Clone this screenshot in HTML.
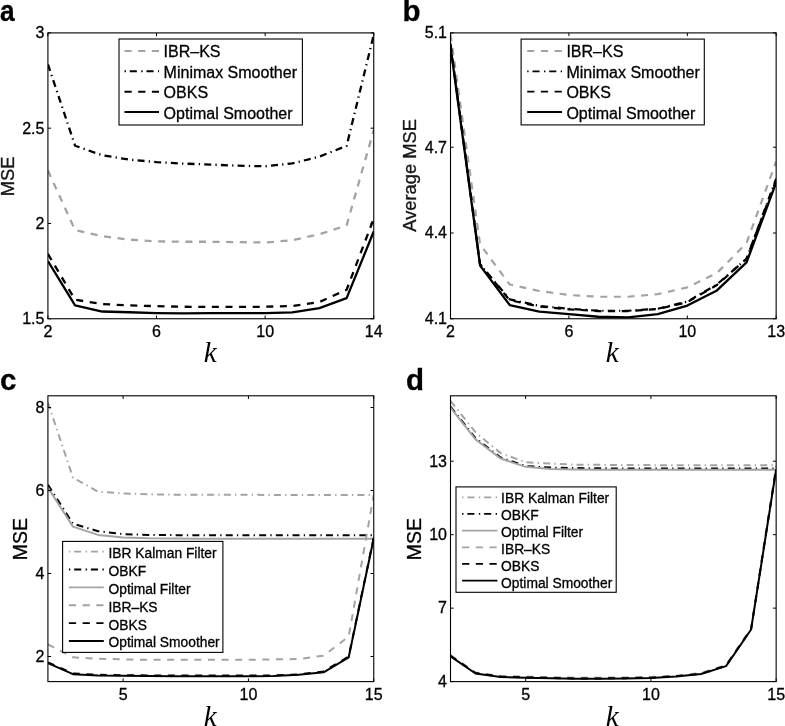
<!DOCTYPE html>
<html><head><meta charset="utf-8"><title>MSE vs k</title>
<style>
html,body{margin:0;padding:0;background:#fff;}
body{width:785px;height:726px;overflow:hidden;}
svg{display:block;font-family:"Liberation Sans", Arial, Helvetica, sans-serif;}
text{stroke:#000;stroke-width:0.3px;}
</style></head>
<body>
<svg width="785" height="726" viewBox="0 0 785 726" fill="#000">
<rect width="785" height="726" fill="#fff"/>
<defs>
<clipPath id="ca"><rect x="47.92" y="32.9" width="325.83" height="285.85"/></clipPath>
<clipPath id="cb"><rect x="450.5" y="32.9" width="325.65" height="285.85"/></clipPath>
<clipPath id="cc"><rect x="47.92" y="395.8" width="325.83" height="285.8"/></clipPath>
<clipPath id="cd"><rect x="450.5" y="395.8" width="325.65" height="285.8"/></clipPath>
</defs>
<polyline points="47.92,170.49 75.07,230.14 102.22,236.23 129.38,239.66 156.53,241.38 183.68,241.76 210.83,241.76 237.99,242.14 265.14,242.52 292.29,240.24 319.44,234.33 346.6,225.37 373.75,130.09" fill="none" stroke="#a3a3a3" stroke-width="2.3" stroke-dasharray="7 6.6" stroke-linejoin="round" clip-path="url(#ca)"/>
<polyline points="47.92,64.34 75.07,145.72 102.22,155.24 129.38,159.63 156.53,162.1 183.68,163.63 210.83,164.58 237.99,165.72 265.14,166.3 292.29,163.44 319.44,156.58 346.6,145.91 373.75,34.81" fill="none" stroke="#000" stroke-width="2.3" stroke-dasharray="7 4.2 1.3 4.2" stroke-linejoin="round" clip-path="url(#ca)"/>
<polyline points="47.92,253.96 75.07,299.69 102.22,304.08 129.38,305.41 156.53,306.17 183.68,306.74 210.83,306.93 237.99,306.93 265.14,306.74 292.29,305.98 319.44,301.98 346.6,289.78 373.75,218.7" fill="none" stroke="#000" stroke-width="2.3" stroke-dasharray="7 6.6" stroke-linejoin="round" clip-path="url(#ca)"/>
<polyline points="47.92,261.01 75.07,305.41 102.22,311.51 129.38,312.27 156.53,313.03 183.68,313.41 210.83,313.22 237.99,313.22 265.14,313.22 292.29,312.46 319.44,308.08 346.6,298.17 373.75,231.47" fill="none" stroke="#000" stroke-width="2.3" stroke-linejoin="round" clip-path="url(#ca)"/>
<path d="M47.92,318.75v-3.2M47.92,32.9v3.2" stroke="#000" stroke-width="1"/>
<path d="M156.53,318.75v-3.2M156.53,32.9v3.2" stroke="#000" stroke-width="1"/>
<path d="M265.14,318.75v-3.2M265.14,32.9v3.2" stroke="#000" stroke-width="1"/>
<path d="M373.75,318.75v-3.2M373.75,32.9v3.2" stroke="#000" stroke-width="1"/>
<path d="M47.92,318.75h3.2M373.75,318.75h-3.2" stroke="#000" stroke-width="1"/>
<path d="M47.92,223.47h3.2M373.75,223.47h-3.2" stroke="#000" stroke-width="1"/>
<path d="M47.92,128.18h3.2M373.75,128.18h-3.2" stroke="#000" stroke-width="1"/>
<path d="M47.92,32.9h3.2M373.75,32.9h-3.2" stroke="#000" stroke-width="1"/>
<rect x="47.92" y="32.9" width="325.83" height="285.85" fill="none" stroke="#000" stroke-width="1.1"/>
<text x="47.92" y="336.65" text-anchor="middle" font-size="16">2</text>
<text x="156.53" y="336.65" text-anchor="middle" font-size="16">6</text>
<text x="265.14" y="336.65" text-anchor="middle" font-size="16">10</text>
<text x="373.75" y="336.65" text-anchor="middle" font-size="16">14</text>
<text x="44.42" y="324.08" text-anchor="end" font-size="16">1.5</text>
<text x="44.42" y="228.79" text-anchor="end" font-size="16">2</text>
<text x="44.42" y="133.51" text-anchor="end" font-size="16">2.5</text>
<text x="44.42" y="38.23" text-anchor="end" font-size="16">3</text>
<rect x="119" y="39" width="183.4" height="86" fill="#fff" stroke="#000" stroke-width="1.1"/>
<path d="M124.5,51H159" stroke="#a3a3a3" stroke-width="2.0" stroke-dasharray="7.2 6.5"/>
<text x="163.6" y="57.1" font-size="16">IBR–KS</text>
<path d="M124.5,71.33H159" stroke="#000" stroke-width="2.0" stroke-dasharray="7.1 4.4 1.4 3.85" stroke-dashoffset="11.5"/>
<text x="163.6" y="77.7" font-size="16">Minimax Smoother</text>
<path d="M124.5,91.66H159" stroke="#000" stroke-width="2.0" stroke-dasharray="7.2 6.5"/>
<text x="163.6" y="98.3" font-size="16">OBKS</text>
<path d="M124.5,111.99H159" stroke="#000" stroke-width="2.0"/>
<text x="163.6" y="118.9" font-size="16">Optimal Smoother</text>
<polyline points="450.5,34.33 480.1,244.43 509.71,284.45 539.31,291.02 568.92,295.02 598.52,296.74 628.13,296.74 657.73,294.17 687.34,287.31 716.94,273.01 746.55,243 776.15,161.53" fill="none" stroke="#a3a3a3" stroke-width="2.2" stroke-dasharray="7 6.6" stroke-linejoin="round" clip-path="url(#cb)"/>
<polyline points="450.5,43.76 480.1,264.44 509.71,299.31 539.31,305.89 568.92,308.75 598.52,310.75 628.13,310.75 657.73,308.75 687.34,301.6 716.94,284.45 746.55,258.72 776.15,178.68" fill="none" stroke="#000" stroke-width="2.2" stroke-dasharray="7 4.2 1.3 4.2" stroke-linejoin="round" clip-path="url(#cb)"/>
<polyline points="450.5,44.91 480.1,264.44 509.71,300.17 539.31,306.46 568.92,309.32 598.52,311.03 628.13,311.03 657.73,309.03 687.34,302.17 716.94,285.02 746.55,258.72 776.15,180.11" fill="none" stroke="#000" stroke-width="2.2" stroke-dasharray="7 6.6" stroke-linejoin="round" clip-path="url(#cb)"/>
<polyline points="450.5,46.62 480.1,265.58 509.71,305.03 539.31,311.6 568.92,314.18 598.52,316.75 628.13,317.32 657.73,314.18 687.34,305.6 716.94,290.45 746.55,262.44 776.15,182.4" fill="none" stroke="#000" stroke-width="2.3" stroke-linejoin="round" clip-path="url(#cb)"/>
<path d="M450.5,318.75v-3.2M450.5,32.9v3.2" stroke="#000" stroke-width="1"/>
<path d="M568.92,318.75v-3.2M568.92,32.9v3.2" stroke="#000" stroke-width="1"/>
<path d="M687.34,318.75v-3.2M687.34,32.9v3.2" stroke="#000" stroke-width="1"/>
<path d="M776.15,318.75v-3.2M776.15,32.9v3.2" stroke="#000" stroke-width="1"/>
<path d="M450.5,318.75h3.2M776.15,318.75h-3.2" stroke="#000" stroke-width="1"/>
<path d="M450.5,232.99h3.2M776.15,232.99h-3.2" stroke="#000" stroke-width="1"/>
<path d="M450.5,147.24h3.2M776.15,147.24h-3.2" stroke="#000" stroke-width="1"/>
<path d="M450.5,32.9h3.2M776.15,32.9h-3.2" stroke="#000" stroke-width="1"/>
<rect x="450.5" y="32.9" width="325.65" height="285.85" fill="none" stroke="#000" stroke-width="1.1"/>
<text x="450.5" y="336.65" text-anchor="middle" font-size="16">2</text>
<text x="568.92" y="336.65" text-anchor="middle" font-size="16">6</text>
<text x="687.34" y="336.65" text-anchor="middle" font-size="16">10</text>
<text x="776.15" y="336.65" text-anchor="middle" font-size="16">13</text>
<text x="447" y="324.08" text-anchor="end" font-size="16">4.1</text>
<text x="447" y="238.32" text-anchor="end" font-size="16">4.4</text>
<text x="447" y="152.57" text-anchor="end" font-size="16">4.7</text>
<text x="447" y="38.23" text-anchor="end" font-size="16">5.1</text>
<rect x="521.1" y="39.1" width="183.2" height="85.8" fill="#fff" stroke="#000" stroke-width="1.1"/>
<path d="M527.2,51H562" stroke="#a3a3a3" stroke-width="1.8" stroke-dasharray="7.2 6.5"/>
<text x="566.4" y="57.1" font-size="16">IBR–KS</text>
<path d="M527.2,71.33H562" stroke="#000" stroke-width="1.8" stroke-dasharray="7.1 4.4 1.4 3.85" stroke-dashoffset="11.5"/>
<text x="566.4" y="77.7" font-size="16">Minimax Smoother</text>
<path d="M527.2,91.66H562" stroke="#000" stroke-width="1.8" stroke-dasharray="7.2 6.5"/>
<text x="566.4" y="98.3" font-size="16">OBKS</text>
<path d="M527.2,111.99H562" stroke="#000" stroke-width="1.8"/>
<text x="566.4" y="118.9" font-size="16">Optimal Smoother</text>
<polyline points="47.92,402.52 72.98,477.63 98.05,491.75 123.11,493.4 148.18,494.24 173.24,494.65 198.3,494.86 223.37,494.86 248.43,494.86 273.49,494.9 298.56,494.9 323.62,494.9 348.69,494.9 373.75,494.9" fill="none" stroke="#a3a3a3" stroke-width="2.0" stroke-dasharray="7 4.2 1.3 4.2" stroke-linejoin="round" clip-path="url(#cc)"/>
<polyline points="47.92,484.69 72.98,523.7 98.05,531.17 123.11,534.08 148.18,534.9 173.24,535.11 198.3,535.32 223.37,535.32 248.43,535.32 273.49,535.32 298.56,535.32 323.62,535.32 348.69,535.32 373.75,535.32" fill="none" stroke="#000" stroke-width="2.0" stroke-dasharray="7 4.2 1.3 4.2" stroke-linejoin="round" clip-path="url(#cc)"/>
<polyline points="47.92,487.59 72.98,526.61 98.05,534.9 123.11,537.39 148.18,538.23 173.24,538.43 198.3,538.64 223.37,538.64 248.43,538.64 273.49,538.64 298.56,538.64 323.62,538.64 348.69,538.64 373.75,538.64" fill="none" stroke="#a3a3a3" stroke-width="2.0" stroke-linejoin="round" clip-path="url(#cc)"/>
<polyline points="47.92,644.47 72.98,657.33 98.05,658.7 123.11,659.4 148.18,659.82 173.24,659.82 198.3,659.82 223.37,659.82 248.43,659.82 273.49,659.4 298.56,658.99 323.62,655.67 348.69,636.58 373.75,494.65" fill="none" stroke="#a3a3a3" stroke-width="2.0" stroke-dasharray="7 6.6" stroke-linejoin="round" clip-path="url(#cc)"/>
<polyline points="47.92,662.31 72.98,673.51 98.05,674.76 123.11,675.17 148.18,675.38 173.24,675.59 198.3,675.59 223.37,675.59 248.43,675.59 273.49,675.38 298.56,674.35 323.62,671.44 348.69,656.5 373.75,537.39" fill="none" stroke="#000" stroke-width="2.0" stroke-dasharray="7 6.6" stroke-linejoin="round" clip-path="url(#cc)"/>
<polyline points="47.92,663.14 72.98,674.14 98.05,675.38 123.11,675.8 148.18,676 173.24,676.21 198.3,676.21 223.37,676.21 248.43,676.21 273.49,676 298.56,674.76 323.62,672.27 348.69,657.33 373.75,538.23" fill="none" stroke="#000" stroke-width="2.0" stroke-linejoin="round" clip-path="url(#cc)"/>
<path d="M123.11,681.6v-3.2M123.11,395.8v3.2" stroke="#000" stroke-width="1"/>
<path d="M248.43,681.6v-3.2M248.43,395.8v3.2" stroke="#000" stroke-width="1"/>
<path d="M373.75,681.6v-3.2M373.75,395.8v3.2" stroke="#000" stroke-width="1"/>
<path d="M47.92,656.5h3.2M373.75,656.5h-3.2" stroke="#000" stroke-width="1"/>
<path d="M47.92,573.5h3.2M373.75,573.5h-3.2" stroke="#000" stroke-width="1"/>
<path d="M47.92,490.5h3.2M373.75,490.5h-3.2" stroke="#000" stroke-width="1"/>
<path d="M47.92,407.5h3.2M373.75,407.5h-3.2" stroke="#000" stroke-width="1"/>
<rect x="47.92" y="395.8" width="325.83" height="285.8" fill="none" stroke="#000" stroke-width="1.1"/>
<text x="123.11" y="699.5" text-anchor="middle" font-size="16">5</text>
<text x="248.43" y="699.5" text-anchor="middle" font-size="16">10</text>
<text x="373.75" y="699.5" text-anchor="middle" font-size="16">15</text>
<text x="44.42" y="661.83" text-anchor="end" font-size="16">2</text>
<text x="44.42" y="578.83" text-anchor="end" font-size="16">4</text>
<text x="44.42" y="495.83" text-anchor="end" font-size="16">6</text>
<text x="44.42" y="412.83" text-anchor="end" font-size="16">8</text>
<rect x="62.6" y="541.4" width="160.3" height="111" fill="#fff" stroke="#000" stroke-width="1.1"/>
<path d="M68.9,551.6H103.8" stroke="#a3a3a3" stroke-width="1.8" stroke-dasharray="7.1 4.4 1.4 3.85" stroke-dashoffset="11.5"/>
<text x="108.5" y="558" font-size="13.8">IBR Kalman Filter</text>
<path d="M68.9,569.48H103.8" stroke="#000" stroke-width="1.8" stroke-dasharray="7.1 4.4 1.4 3.85" stroke-dashoffset="11.5"/>
<text x="108.5" y="575.88" font-size="13.8">OBKF</text>
<path d="M68.9,587.36H103.8" stroke="#a3a3a3" stroke-width="1.8"/>
<text x="108.5" y="593.76" font-size="13.8">Optimal Filter</text>
<path d="M68.9,605.24H103.8" stroke="#a3a3a3" stroke-width="1.8" stroke-dasharray="7.2 6.5"/>
<text x="108.5" y="611.64" font-size="13.8">IBR–KS</text>
<path d="M68.9,623.12H103.8" stroke="#000" stroke-width="1.8" stroke-dasharray="7.2 6.5"/>
<text x="108.5" y="629.52" font-size="13.8">OBKS</text>
<path d="M68.9,641H103.8" stroke="#000" stroke-width="1.8"/>
<text x="108.5" y="647.4" font-size="13.8">Optimal Smoother</text>
<polyline points="450.5,400.96 475.55,432.3 500.6,453.12 525.65,462.18 550.7,463.65 575.75,464.63 600.8,464.87 625.85,465.12 650.9,465.12 675.95,465.36 701,465.36 726.05,465.36 751.1,465.36 776.15,465.36" fill="none" stroke="#a3a3a3" stroke-width="2.0" stroke-dasharray="7 4.2 1.3 4.2" stroke-linejoin="round" clip-path="url(#cd)"/>
<polyline points="450.5,406.59 475.55,438.18 500.6,457.53 525.65,466.1 550.7,467.57 575.75,468.06 600.8,468.3 625.85,468.55 650.9,468.55 675.95,468.55 701,468.55 726.05,468.55 751.1,468.55 776.15,468.55" fill="none" stroke="#000" stroke-width="2.0" stroke-dasharray="7 4.2 1.3 4.2" stroke-linejoin="round" clip-path="url(#cd)"/>
<polyline points="450.5,407.57 475.55,439.4 500.6,458.51 525.65,466.83 550.7,469.04 575.75,469.53 600.8,469.77 625.85,469.77 650.9,469.77 675.95,469.77 701,469.77 726.05,469.77 751.1,469.77 776.15,469.77" fill="none" stroke="#a3a3a3" stroke-width="2.0" stroke-linejoin="round" clip-path="url(#cd)"/>
<polyline points="450.5,655.15 475.55,672.54 500.6,675.97 525.65,676.7 550.7,677.19 575.75,677.68 600.8,677.68 625.85,677.44 650.9,676.95 675.95,675.72 701,673.03 726.05,664.95 751.1,628.46 776.15,466.1" fill="none" stroke="#a3a3a3" stroke-width="2.0" stroke-dasharray="7 6.6" stroke-linejoin="round" clip-path="url(#cd)"/>
<polyline points="450.5,655.89 475.55,673.03 500.6,676.46 525.65,677.44 550.7,677.93 575.75,678.42 600.8,678.42 625.85,678.17 650.9,677.68 675.95,676.21 701,673.76 726.05,665.68 751.1,629.19 776.15,468.55" fill="none" stroke="#000" stroke-width="2.0" stroke-dasharray="7 6.6" stroke-linejoin="round" clip-path="url(#cd)"/>
<polyline points="450.5,656.38 475.55,673.52 500.6,676.95 525.65,677.68 550.7,678.17 575.75,678.66 600.8,678.66 625.85,678.42 650.9,677.93 675.95,676.46 701,674.01 726.05,666.17 751.1,629.44 776.15,469.28" fill="none" stroke="#000" stroke-width="2.0" stroke-linejoin="round" clip-path="url(#cd)"/>
<path d="M525.65,681.6v-3.2M525.65,395.8v3.2" stroke="#000" stroke-width="1"/>
<path d="M650.9,681.6v-3.2M650.9,395.8v3.2" stroke="#000" stroke-width="1"/>
<path d="M776.15,681.6v-3.2M776.15,395.8v3.2" stroke="#000" stroke-width="1"/>
<path d="M450.5,681.6h3.2M776.15,681.6h-3.2" stroke="#000" stroke-width="1"/>
<path d="M450.5,608.13h3.2M776.15,608.13h-3.2" stroke="#000" stroke-width="1"/>
<path d="M450.5,534.67h3.2M776.15,534.67h-3.2" stroke="#000" stroke-width="1"/>
<path d="M450.5,461.2h3.2M776.15,461.2h-3.2" stroke="#000" stroke-width="1"/>
<rect x="450.5" y="395.8" width="325.65" height="285.8" fill="none" stroke="#000" stroke-width="1.1"/>
<text x="525.65" y="699.5" text-anchor="middle" font-size="16">5</text>
<text x="650.9" y="699.5" text-anchor="middle" font-size="16">10</text>
<text x="776.15" y="699.5" text-anchor="middle" font-size="16">15</text>
<text x="447" y="686.93" text-anchor="end" font-size="16">4</text>
<text x="447" y="613.46" text-anchor="end" font-size="16">7</text>
<text x="447" y="539.99" text-anchor="end" font-size="16">10</text>
<text x="447" y="466.53" text-anchor="end" font-size="16">13</text>
<rect x="456" y="486.9" width="160.2" height="105.4" fill="#fff" stroke="#000" stroke-width="1.1"/>
<path d="M462.1,497.3H497.4" stroke="#a3a3a3" stroke-width="1.8" stroke-dasharray="7.1 4.4 1.4 3.85" stroke-dashoffset="11.5"/>
<text x="501.1" y="502.9" font-size="13.8">IBR Kalman Filter</text>
<path d="M462.1,513.96H497.4" stroke="#000" stroke-width="1.8" stroke-dasharray="7.1 4.4 1.4 3.85" stroke-dashoffset="11.5"/>
<text x="501.1" y="519.82" font-size="13.8">OBKF</text>
<path d="M462.1,530.62H497.4" stroke="#a3a3a3" stroke-width="1.8"/>
<text x="501.1" y="536.74" font-size="13.8">Optimal Filter</text>
<path d="M462.1,547.28H497.4" stroke="#a3a3a3" stroke-width="1.8" stroke-dasharray="7.2 6.5"/>
<text x="501.1" y="553.66" font-size="13.8">IBR–KS</text>
<path d="M462.1,563.94H497.4" stroke="#000" stroke-width="1.8" stroke-dasharray="7.2 6.5"/>
<text x="501.1" y="570.58" font-size="13.8">OBKS</text>
<path d="M462.1,580.6H497.4" stroke="#000" stroke-width="1.8"/>
<text x="501.1" y="587.5" font-size="13.8">Optimal Smoother</text>
<text x="210.2" y="361.6" text-anchor="middle" font-family='"Liberation Serif", "Times New Roman", serif' font-style="italic" font-size="29" style="stroke:none">k</text>
<text x="612.2" y="361.6" text-anchor="middle" font-family='"Liberation Serif", "Times New Roman", serif' font-style="italic" font-size="29" style="stroke:none">k</text>
<text x="210.2" y="725.5" text-anchor="middle" font-family='"Liberation Serif", "Times New Roman", serif' font-style="italic" font-size="29" style="stroke:none">k</text>
<text x="612.2" y="725.5" text-anchor="middle" font-family='"Liberation Serif", "Times New Roman", serif' font-style="italic" font-size="29" style="stroke:none">k</text>
<text transform="translate(13.8,176.4) rotate(-90)" text-anchor="middle" font-size="18.3" fill="#1a1a1a">MSE</text>
<text transform="translate(416.3,175.4) rotate(-90)" text-anchor="middle" font-size="18.3" fill="#1a1a1a">Average MSE</text>
<text transform="translate(27,539.1) rotate(-90)" text-anchor="middle" font-size="19.5" fill="#000">MSE</text>
<text transform="translate(420.7,539) rotate(-90)" text-anchor="middle" font-size="19.5" fill="#000">MSE</text>
<text x="0" y="20.6" font-size="29.5" font-weight="bold" transform="scale(0.89,1)">a</text>
<text x="402.5" y="20.8" font-size="29.5" font-weight="bold">b</text>
<text x="0" y="389.6" font-size="29.5" font-weight="bold">c</text>
<text x="406" y="389.6" font-size="29.5" font-weight="bold">d</text>
</svg>
</body></html>
